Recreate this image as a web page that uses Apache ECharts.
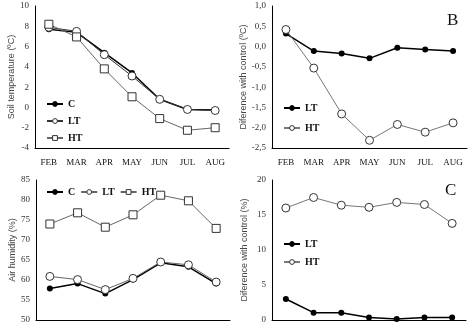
<!DOCTYPE html>
<html><head><meta charset="utf-8">
<script src="https://cdn.jsdelivr.net/npm/echarts@6/dist/echarts.min.js"></script>
<style>html,body{margin:0;padding:0;background:#fff}#c{width:474px;height:331px}</style>
</head><body><div id="c"></div>
<script>
const months = ['FEB','MAR','APR','MAY','JUN','JUL','AUG'];
// Panel A: soil temperature (ºC)
const soilC  = [7.7, 7.4, 5.4, 3.4, 0.8, -0.2, -0.25];
const soilLT = [7.9, 7.5, 5.2, 3.1, 0.8, -0.2, -0.3];
const soilHT = [8.2, 6.95, 3.8, 1.05, -1.1, -2.25, -2.0];
// Panel B: soil temperature difference with control (ºC)
const soilDiffLT = [0.32, -0.11, -0.17, -0.29, -0.03, -0.07, -0.11];
const soilDiffHT = [0.42, -0.53, -1.66, -2.31, -1.92, -2.11, -1.88];
// Panel C: air humidity (%)
const humC  = [57.9, 59.1, 56.6, 60.1, 64.3, 63.3, 59.1];
const humLT = [60.9, 60.1, 57.6, 60.4, 64.5, 63.8, 59.5];
const humHT = [74.0, 76.8, 73.2, 76.3, 81.2, 79.8, 72.9];
// Panel D: air humidity difference with control (%)
const humDiffLT = [3.0, 1.05, 1.05, 0.35, 0.15, 0.35, 0.35];
const humDiffHT = [16.0, 17.5, 16.4, 16.1, 16.8, 16.5, 13.8];

const serif = 'Liberation Serif';
const sans = 'Liberation Sans';
const grids = [
  {left:35, top:6, width:194, height:142},
  {left:272, top:6, width:195, height:142},
  {left:36, top:180, width:194, height:140},
  {left:272, top:180, width:194, height:140}
];
function xAx(i, showLabels){
  return {type:'category', gridIndex:i, data:months, boundaryGap:true,
    axisLine:{onZero:false, lineStyle:{color:'#000', width:1}}, axisTick:{show:false},
    axisLabel:{show:showLabels, fontFamily:serif, fontSize:9, color:'#111', margin:10}};
}
function yAx(i, min, max, interval, name, gap, fmt){
  return {type:'value', gridIndex:i, min:min, max:max, interval:interval,
    name:name, nameLocation:'middle', nameGap:gap, nameRotate:90,
    nameTextStyle:{fontFamily:sans, fontSize:9, color:'#444'},
    axisLine:{show:true, onZero:false, lineStyle:{color:'#000', width:1}}, axisTick:{show:false},
    splitLine:{show:false},
    axisLabel:{fontFamily:serif, fontSize:9, color:'#333', margin:6, formatter:fmt}};
}
const comma = v => v.toFixed(1).replace('.', ',');
function filled(name, i, data){
  return {name:name, type:'line', xAxisIndex:i, yAxisIndex:i, data:data,
    symbol:'circle', symbolSize:6, lineStyle:{color:'#000', width:1.5},
    itemStyle:{color:'#000', borderColor:'#000', borderWidth:0}, z:3};
}
function openCircle(name, i, data, lc){
  return {name:name, type:'line', xAxisIndex:i, yAxisIndex:i, data:data,
    symbol:'circle', symbolSize:8, lineStyle:{color:lc, width:1},
    itemStyle:{color:'#fff', borderColor:'#333', borderWidth:1}, z:4};
}
function openSquare(name, i, data){
  return {name:name, type:'line', xAxisIndex:i, yAxisIndex:i, data:data,
    symbol:'rect', symbolSize:8, lineStyle:{color:'#666', width:1},
    itemStyle:{color:'#fff', borderColor:'#333', borderWidth:1}, z:4};
}
const strip = n => n.split('-')[1];
const legText = {fontFamily:serif, fontSize:10, fontWeight:'bold', color:'#111'};
const legCommon = {itemWidth:16, itemHeight:6, formatter:strip, textStyle:legText, padding:0, itemStyle:{borderWidth:1}};
const option = {
  animation:false,
  backgroundColor:'#fff',
  grid:grids,
  xAxis:[xAx(0,true), xAx(1,true), xAx(2,false), xAx(3,false)],
  yAxis:[
    yAx(0,-4,10,2,'Soil temperature (ºC)',19),
    yAx(1,-2.5,1,0.5,'Diference with control (ºC)',22,comma),
    yAx(2,50,85,5,'Air humidity (%)',19),
    yAx(3,0,20,5,'Diference with control (%)',23)
  ],
  legend:[
    Object.assign({data:['A-C','A-LT','A-HT'], orient:'vertical', left:46, top:99, itemGap:7}, legCommon),
    Object.assign({data:['B-LT','B-HT'], orient:'vertical', left:283, top:103, itemGap:10}, legCommon),
    Object.assign({data:['C-C','C-LT','C-HT'], orient:'horizontal', left:46, top:187, itemGap:5}, legCommon),
    Object.assign({data:['D-LT','D-HT'], orient:'vertical', left:283, top:239, itemGap:8}, legCommon)
  ],
  graphic:[
    {type:'text', left:447, top:12, style:{text:'B', font:'17px "Liberation Serif"', fill:'#111'}},
    {type:'text', left:445, top:182, style:{text:'C', font:'17px "Liberation Serif"', fill:'#111'}}
  ],
  series:[
    filled('A-C',0,soilC),
    openCircle('A-LT',0,soilLT,'#333'),
    openSquare('A-HT',0,soilHT),
    filled('B-LT',1,soilDiffLT),
    openCircle('B-HT',1,soilDiffHT,'#777'),
    filled('C-C',2,humC),
    openCircle('C-LT',2,humLT,'#666'),
    openSquare('C-HT',2,humHT),
    filled('D-LT',3,humDiffLT),
    openCircle('D-HT',3,humDiffHT,'#777')
  ]
};
echarts.init(document.getElementById('c'), null, {renderer:'canvas'}).setOption(option);
</script></body></html>
